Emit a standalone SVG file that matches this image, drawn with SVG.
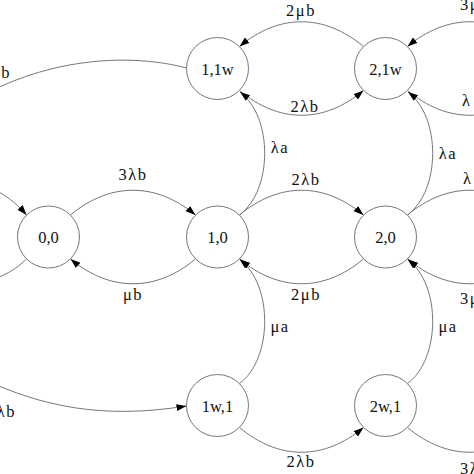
<svg xmlns="http://www.w3.org/2000/svg" width="474" height="474" viewBox="0 0 474 474">
<defs>
<marker id="arr" markerUnits="userSpaceOnUse" markerWidth="11" markerHeight="8" refX="10" refY="3.5" orient="auto">
<path d="M0,0 L10,3.5 L0,7 z" fill="#000"/>
</marker>
<style>
.n circle{fill:#fff;stroke:#777;stroke-width:1}
.n text{font-size:16.5px;text-anchor:middle;fill:#111}
.e path{fill:none;stroke:#777;stroke-width:1}
.e path.a{marker-end:url(#arr)}
.l text{font-size:16.5px;fill:#111;letter-spacing:1.5px}
.l text.c{text-anchor:middle}
</style>
</defs>
<rect width="474" height="474" fill="#fff"/>
<g id="edges" class="e">
<path d="M186.5,68 C150,58 70,50 -15,94"/>
<path class="a" d="M363.5,46.5 C324,13.5 279,13.5 239.5,46.5"/>
<path class="a" d="M239.5,90.5 C279,123.5 324,123.5 363.5,90.5"/>
<path class="a" d="M532,46.5 C493,13.5 447,13.5 407.5,46.5"/>
<path d="M407.5,90.5 C447,123.5 493,123.5 532,90.5"/>
<path class="a" d="M239.5,215 C273,190 273,117 240,92"/>
<path class="a" d="M407.5,215 C441,190 441,117 408,92"/>
<path class="a" d="M-40,182 C-10,182 12,198 26.5,215"/>
<path d="M26.5,259 C15,270 5,276 -20,284"/>
<path class="a" d="M70.5,215 C110,182 156,182 195.5,215"/>
<path class="a" d="M195.5,259 C156,292 110,292 70.5,259"/>
<path class="a" d="M239.5,215 C279,182 324,182 363.5,215"/>
<path class="a" d="M363.5,259 C324,292 279,292 239.5,259"/>
<path d="M407.5,215 C447,182 493,182 532,215"/>
<path class="a" d="M532,259 C493,292 447,292 407.5,259"/>
<path class="a" d="M239.5,383.5 C273,359 273,284 240,260"/>
<path class="a" d="M407.5,383.5 C441,359 441,284 408,260"/>
<path class="a" d="M-15,380 C40,405 100,420 186.5,406"/>
<path class="a" d="M239.5,427.5 C279,460.5 324,460.5 363.5,427.5"/>
<path d="M407.5,427.5 C447,460.5 493,460.5 532,427.5"/>
</g>
<g id="labels" class="l" font-family="'Liberation Serif', 'Times New Roman', 'DejaVu Serif', serif">
<text x="11" y="78" text-anchor="end">b</text>
<text class="c" x="301" y="16">2μb</text>
<text class="c" x="305" y="112">2λb</text>
<text x="460" y="10">3μ</text>
<text x="462" y="106">λ</text>
<text class="c" x="280" y="153">λa</text>
<text class="c" x="448" y="159">λa</text>
<text class="c" x="133" y="180">3λb</text>
<text class="c" x="306" y="185">2λb</text>
<text x="463" y="184">λ</text>
<text class="c" x="133" y="300">μb</text>
<text class="c" x="306" y="300">2μb</text>
<text x="460" y="304">3μ</text>
<text class="c" x="280" y="332">μa</text>
<text class="c" x="448" y="332">μa</text>
<text x="16" y="417" text-anchor="end">λb</text>
<text class="c" x="301" y="467">2λb</text>
<text x="460" y="474">3λ</text>
</g>
<g font-family="'Liberation Serif', 'Times New Roman', 'DejaVu Serif', serif">
<g id="n-1-1w" class="n"><circle cx="217.5" cy="68.5" r="31"/><text x="217.5" y="74.5">1,1w</text></g>
<g id="n-2-1w" class="n"><circle cx="385.5" cy="68.5" r="31"/><text x="385.5" y="74.5">2,1w</text></g>
<g id="n-0-0" class="n"><circle cx="48.5" cy="237" r="31"/><text x="48.5" y="243">0,0</text></g>
<g id="n-1-0" class="n"><circle cx="217.5" cy="237" r="31"/><text x="217.5" y="243">1,0</text></g>
<g id="n-2-0" class="n"><circle cx="385.5" cy="237" r="31"/><text x="385.5" y="243">2,0</text></g>
<g id="n-1w-1" class="n"><circle cx="217.5" cy="405.5" r="31"/><text x="217.5" y="411.5">1w,1</text></g>
<g id="n-2w-1" class="n"><circle cx="385.5" cy="405.5" r="31"/><text x="385.5" y="411.5">2w,1</text></g>
</g>
</svg>
